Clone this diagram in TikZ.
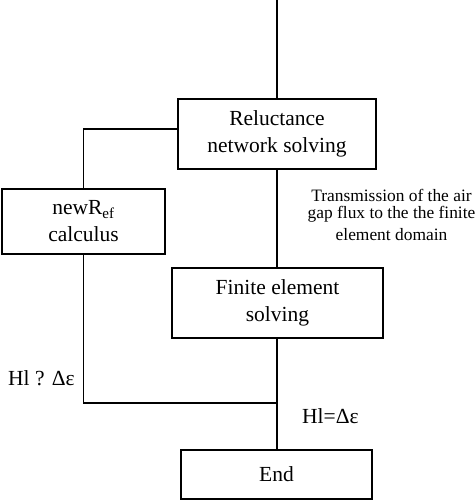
\documentclass[tikz,border=0pt]{standalone}
\usepackage{fontspec}
\setmainfont{Liberation Serif}
\begin{document}
\begin{tikzpicture}[x=1pt,y=-1pt,
  box/.style={draw, line width=1.8pt, rectangle, inner sep=0pt, align=center,
    font=\fontsize{21.5}{27}\selectfont},
  wire/.style={line width=1.8pt},
  lbl/.style={inner sep=0pt, font=\fontsize{21.5}{26}\selectfont},
  note/.style={inner sep=0pt, align=center, font=\fontsize{17.4}{17}\selectfont}]
\useasboundingbox (0,0) rectangle (474,500);
\clip (0,0) rectangle (474,500);
\node[box, minimum width=198pt, minimum height=70pt] (rel) at (277,134)
  {Reluctance\\network solving};
\node[box, minimum width=163pt, minimum height=65pt] (ref) at (83.5,221.5)
  {newR\textsubscript{ef}\\calculus};
\node[box, minimum width=211pt, minimum height=70pt] (fe) at (277.5,303)
  {Finite element\\solving};
\node[box, minimum width=191pt, minimum height=49pt] (end) at (276.5,474.5)
  {End};
\coordinate (top) at (277,0);
\coordinate (c1) at (83.5,129);
\coordinate (j1) at (83.5,403);
\draw[wire] (top) -- (top |- rel.north);
\draw[wire] (rel.west |- c1) -- (c1) -- (ref.north);
\draw[wire] (rel.south -| top) -- (fe.north -| top);
\draw[wire] (fe.south -| top) -- (end.north -| top);
\draw[wire] (ref.south) -- (j1) -- (j1 -| top);
\node[note] (tx) at (391.5,214.5)
  {Transmission of the air\\gap flux to the the finite\\[5pt]element domain};
\node[lbl, anchor=west] (ne) at (8,378) {Hl ? Δε};
\node[lbl, anchor=west] (eq) at (302,416) {Hl=Δε};
\end{tikzpicture}
\end{document}
